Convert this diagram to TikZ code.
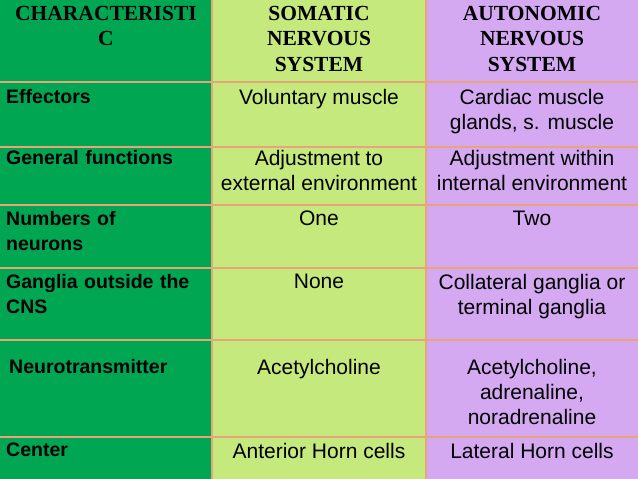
\documentclass[tikz,border=0pt]{standalone}
\usepackage{fontspec}
\setmainfont{Liberation Sans}
\newfontfamily\hdr{Liberation Serif}
\definecolor{cg}{HTML}{00A651}
\definecolor{cl}{HTML}{C5E97C}
\definecolor{cp}{HTML}{D4A9F2}
\definecolor{ln}{HTML}{E9A57A}
\begin{document}
\begin{tikzpicture}[x=1pt,y=-1pt,
  hd/.style={anchor=north,align=center,font=\hdr\bfseries\fontsize{21.5}{25.5}\selectfont,inner sep=0pt},
  lab/.style={anchor=north west,align=left,font=\bfseries\fontsize{19.5}{25}\selectfont,inner sep=0pt,text width=210pt},
  cel/.style={anchor=north,align=center,font=\fontsize{21}{25}\selectfont,inner sep=0pt}]
\useasboundingbox (0,0) rectangle (638,479);
\fill[cg] (0,0) rectangle (212,479);
\fill[cl] (212,0) rectangle (426,479);
\fill[cp] (426,0) rectangle (638,479);
\foreach \y in {82,147,205,268,340,437} \draw[ln,line width=1.2pt] (0,\y) -- (638,\y);
\foreach \x in {212,426} \draw[ln,line width=1.2pt] (\x,0) -- (\x,479);
\node[hd] (h1) at (106,6) {CHARACTERISTI\\C};
\node[hd] (h2) at (319,6) {SOMATIC\\NERVOUS\\SYSTEM};
\node[hd] (h3) at (532,6) {AUTONOMIC\\NERVOUS\\SYSTEM};
\node[lab] (r1) at (6,89) {Effectors};
\node[cel] (a1) at (319,89) {Voluntary muscle};
\node[cel] (b1) at (532,89) {Cardiac muscle\\glands, s. muscle};
\node[lab] (r2) at (6,150) {General functions};
\node[cel] (a2) at (319,150) {Adjustment to\\external environment};
\node[cel] (b2) at (532,150) {Adjustment within\\internal environment};
\node[lab] (r3) at (6,211) {Numbers of\\neurons};
\node[cel] (a3) at (319,211) {One};
\node[cel] (b3) at (532,211) {Two};
\node[lab] (r4) at (6,274) {Ganglia outside the\\CNS};
\node[cel] (a4) at (319,274) {None};
\node[cel] (b4) at (532,274) {Collateral ganglia or\\terminal ganglia};
\node[lab] (r5) at (9,359) {Neurotransmitter};
\node[cel] (a5) at (319,359) {Acetylcholine};
\node[cel] (b5) at (532,359) {Acetylcholine,\\adrenaline,\\noradrenaline};
\node[lab] (r6) at (6,443) {Center};
\node[cel] (a6) at (319,443) {Anterior Horn cells};
\node[cel] (b6) at (532,443) {Lateral Horn cells};
\end{tikzpicture}
\end{document}
